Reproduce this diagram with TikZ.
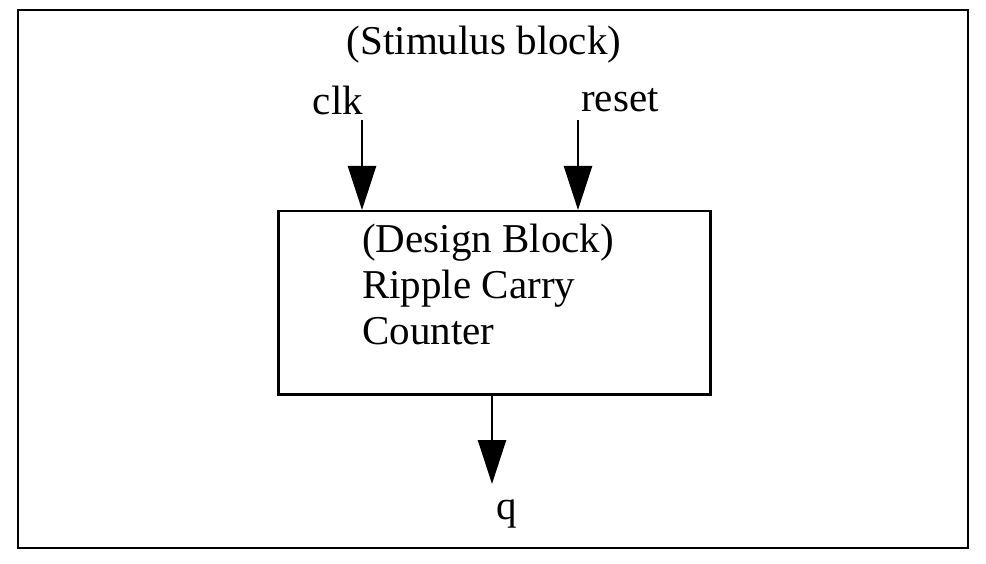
\documentclass[tikz,border=0pt]{standalone}
\usepackage{fontspec}
\setmainfont{Liberation Serif}
\usetikzlibrary{arrows.meta}
\begin{document}
\begin{tikzpicture}[x=1pt,y=-1pt,
  box/.style={draw,line width=2.5pt},
  sig/.style={line width=2.5pt,-{Triangle[length=44pt,width=28pt]}},
  lbl/.style={font=\fontsize{41}{46}\selectfont,inner sep=0pt}]
\useasboundingbox (0,0) rectangle (986,564);
\draw[box] (18,10) rectangle (968,548);
\node[box,minimum width=432pt,minimum height=183pt,anchor=north west] (rcc) at (277,210) {};
\node[lbl,align=left,anchor=north west] (txt) at (362,224) {(Design Block)\\Ripple Carry\\Counter};
\node[lbl] (stim) at (484,45) {(Stimulus block)};
\node[lbl] (clk) at (338,100) {clk};
\node[lbl] (reset) at (620,100) {reset};
\node[lbl] (q) at (507,514) {q};
\coordinate (clkS) at (362,120);
\coordinate (rstS) at (578,120);
\coordinate (qE) at (492,484);
\draw[sig] (clkS) -- (clkS |- rcc.north);
\draw[sig] (rstS) -- (rstS |- rcc.north);
\draw[sig] (qE |- rcc.south) -- (qE);
\end{tikzpicture}
\end{document}
